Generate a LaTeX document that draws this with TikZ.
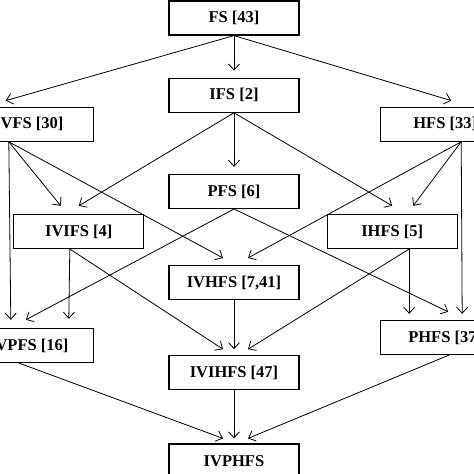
\documentclass[tikz,border=0pt]{standalone}
\usepackage{fontspec}
\setmainfont{Liberation Serif}
\usepackage{tikz}
\usetikzlibrary{arrows.meta, positioning, calc}

\begin{document}
\begin{tikzpicture}
        [->, >={Straight Barb[length=6pt,width=11pt]}, line width=0.8pt,
        setbox/.style={rectangle, draw=black, line width=1.2pt, minimum width=130pt, minimum height=34pt, inner sep=0pt, align=center, font=\fontsize{16.5}{18}\selectfont\bfseries}]
        \useasboundingbox (0,0) rectangle (474pt,-474pt);

        \node[setbox]  (FS)     at (234pt,-18pt)    {FS [43]};
        \node[setbox]  (IFS)    [below = 42pt of FS]        {IFS [2]};
        \node[setbox]  (PFS)    [below = 61pt of IFS]       {PFS [6]};
        \node[setbox]  (IVHFS)  [below = 56pt of PFS]       {IVHFS [7,41]};
        \node[setbox]  (IVIHFS) [below = 55pt of IVHFS]     {IVIHFS [47]};
        \node[setbox]  (IVPHFS) [below = 53pt of IVIHFS]    {IVPHFS};

        \node[setbox]  (IVFS)   [left = 74pt of IFS, yshift=-29pt]   {IVFS [30]};
        \node[setbox]  (HFS)    [right = 80pt of IFS, yshift=-29pt]  {HFS [33]};
        \node[setbox]  (IVIFS)  [left = 24pt of PFS, yshift=-40pt]   {IVIFS [4]};
        \node[setbox]  (IHFS)   [right = 27pt of PFS, yshift=-40pt]  {IHFS [5]};
        \node[setbox]  (IVPFS)  [below = 186pt of IVFS]     {IVPFS [16]};
        \node[setbox]  (PHFS)   [below = 178pt of HFS]      {PHFS [37]};

        \path (FS.south) edge                           ([yshift=7pt]IFS.north)
              (FS.south) edge                           ([shift={(-23pt,6pt)}]IVFS.north)
              (FS.south) edge                           ([shift={(6pt,6pt)}]HFS.north)
              (IFS.south) edge                          ([yshift=7pt]PFS.north)
              (IFS.south) edge                          ([yshift=8pt]IVIFS.north)
              (IFS.south) edge                          ([yshift=8pt]IHFS.north)
              ([xshift=-20pt]IVFS.south) edge           ([shift={(-18pt,8pt)}]IVIFS.north)
              ([xshift=-20pt]IVFS.south) edge           ([shift={(-11pt,7pt)}]IVHFS.north)
              ([xshift=-20pt]IVFS.south) edge           ([shift={(-18pt,8pt)}]IVPFS.north)
              ([xshift=16pt]HFS.south) edge             ([shift={(21pt,8pt)}]IHFS.north)
              ([xshift=16pt]HFS.south) edge             ([shift={(14pt,7pt)}]IVHFS.north)
              ([xshift=16pt]HFS.south) edge             ([shift={(17pt,6pt)}]PHFS.north)
              (PFS.south) edge                          ([shift={(-3pt,8pt)}]IVPFS.north)
              (PFS.south) edge                          ([shift={(3pt,8pt)}]PHFS.north)
              ([xshift=-9pt]IVIFS.south) edge           ([shift={(40pt,9pt)}]IVPFS.north)
              ([xshift=-9pt]IVIFS.south) edge           ([shift={(-11pt,6pt)}]IVIHFS.north)
              ([xshift=17pt]IHFS.south) edge            ([shift={(-36pt,6pt)}]PHFS.north)
              ([xshift=17pt]IHFS.south) edge            ([shift={(14pt,6pt)}]IVIHFS.north)
              (IVHFS.south) edge                        ([yshift=6pt]IVIHFS.north)
              ([xshift=-10pt]IVPFS.south) edge          ([shift={(-11pt,5pt)}]IVPHFS.north)
              (IVIHFS.south) edge                       ([yshift=5pt]IVPHFS.north)
              ([xshift=4pt]PHFS.south) edge             ([shift={(14pt,5pt)}]IVPHFS.north);
\end{tikzpicture}
\end{document}
